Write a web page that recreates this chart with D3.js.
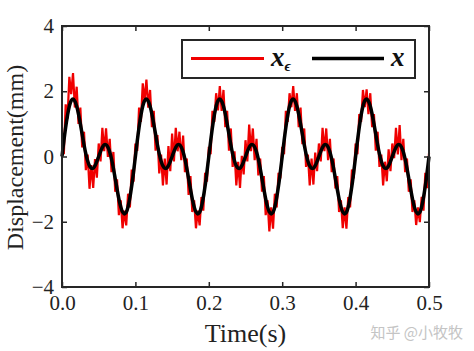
<!DOCTYPE html>
<html>
<head>
<meta charset="utf-8">
<script src="https://cdn.jsdelivr.net/npm/d3@7"></script>
<style>
  body { margin: 0; background: #fff; }
  svg { display: block; }
</style>
</head>
<body>
<svg id="chart"></svg>
<script>
// sample instants (s), 0.0025 s apart
const timeStep = 0.0025;
const times = d3.range(0, 201).map(i => +(i * timeStep).toFixed(4));

// clean displacement x (mm)
const cleanValues = [
  0, 0.47, 0.90, 1.26, 1.54, 1.71, 1.76, 1.70, 1.54, 1.30, 1.00, 0.68, 0.36, 0.08, -0.14, -0.29, -0.36, -0.36, -0.28, -0.15,
  0, 0.15, 0.28, 0.36, 0.36, 0.29, 0.14, -0.08, -0.36, -0.68, -1.00, -1.30, -1.54, -1.70, -1.76, -1.71, -1.54, -1.26, -0.90, -0.47,
  0, 0.47, 0.90, 1.26, 1.54, 1.71, 1.76, 1.70, 1.54, 1.30, 1.00, 0.68, 0.36, 0.08, -0.14, -0.29, -0.36, -0.36, -0.28, -0.15,
  0, 0.15, 0.28, 0.36, 0.36, 0.29, 0.14, -0.08, -0.36, -0.68, -1.00, -1.30, -1.54, -1.70, -1.76, -1.71, -1.54, -1.26, -0.90, -0.47,
  0, 0.47, 0.90, 1.26, 1.54, 1.71, 1.76, 1.70, 1.54, 1.30, 1.00, 0.68, 0.36, 0.08, -0.14, -0.29, -0.36, -0.36, -0.28, -0.15,
  0, 0.15, 0.28, 0.36, 0.36, 0.29, 0.14, -0.08, -0.36, -0.68, -1.00, -1.30, -1.54, -1.70, -1.76, -1.71, -1.54, -1.26, -0.90, -0.47,
  0, 0.47, 0.90, 1.26, 1.54, 1.71, 1.76, 1.70, 1.54, 1.30, 1.00, 0.68, 0.36, 0.08, -0.14, -0.29, -0.36, -0.36, -0.28, -0.15,
  0, 0.15, 0.28, 0.36, 0.36, 0.29, 0.14, -0.08, -0.36, -0.68, -1.00, -1.30, -1.54, -1.70, -1.76, -1.71, -1.54, -1.26, -0.90, -0.47,
  0, 0.47, 0.90, 1.26, 1.54, 1.71, 1.76, 1.70, 1.54, 1.30, 1.00, 0.68, 0.36, 0.08, -0.14, -0.29, -0.36, -0.36, -0.28, -0.15,
  0, 0.15, 0.28, 0.36, 0.36, 0.29, 0.14, -0.08, -0.36, -0.68, -1.00, -1.30, -1.54, -1.70, -1.76, -1.71, -1.54, -1.26, -0.90, -0.47,
  0
];

// deviation of the noisy record x_eps from x (mm)
const noiseOffsets = [
  0.5, -0.4, 0.7, -0.1, 0.9, 0.2, 0.8, -0.2, 0.6, -0.3, 0.5, -0.4, 0.4, -0.5, 0.2, -0.7, 0.1, -0.6, 0.2, -0.5,
  0.4, -0.3, 0.6, -0.2, 0.5, -0.3, 0.4, -0.4, 0.5, -0.4, 0.3, -0.5, 0.2, -0.5, 0.1, -0.4, 0.4, -0.3, 0.5, -0.3,
  0.4, -0.3, 0.6, -0.2, 0.7, 0.0, 0.6, -0.2, 0.5, -0.4, 0.4, -0.5, 0.3, -0.6, 0.2, -0.6, 0.3, -0.5, 0.6, -0.3,
  0.7, -0.3, 0.6, -0.2, 0.4, -0.4, 0.5, -0.4, 0.3, -0.5, 0.4, -0.4, 0.2, -0.5, 0.1, -0.4, 0.3, -0.4, 0.4, -0.3,
  0.3, -0.4, 0.5, -0.2, 0.4, -0.3, 0.4, -0.3, 0.5, -0.4, 0.4, -0.5, 0.5, -0.4, 0.3, -0.6, 0.2, -0.6, 0.3, -0.4,
  0.5, -0.3, 0.7, -0.2, 0.5, -0.4, 0.4, -0.5, 0.3, -0.4, 0.4, -0.5, 0.2, -0.6, 0.2, -0.5, 0.4, -0.3, 0.4, -0.2,
  0.3, -0.4, 0.5, -0.2, 0.4, -0.2, 0.4, -0.3, 0.4, -0.4, 0.5, -0.3, 0.5, -0.4, 0.2, -0.6, 0.3, -0.5, 0.4, -0.3,
  0.4, -0.3, 0.6, -0.2, 0.5, -0.4, 0.4, -0.4, 0.3, -0.3, 0.4, -0.4, 0.2, -0.5, 0.2, -0.5, 0.3, -0.3, 0.5, -0.2,
  0.4, -0.4, 0.4, -0.2, 0.5, -0.2, 0.3, -0.4, 0.4, -0.4, 0.3, -0.5, 0.4, -0.4, 0.2, -0.6, 0.2, -0.4, 0.5, -0.3,
  0.4, -0.2, 0.6, -0.3, 0.6, -0.4, 0.4, -0.4, 0.3, -0.4, 0.3, -0.4, 0.2, -0.4, 0.2, -0.3, 0.3, -0.4, 0.4, -0.5,
  0.1
];

const xTicks = [0, 0.1, 0.2, 0.3, 0.4, 0.5];
const yTicks = [-4, -2, 0, 2, 4];

const W = 474, H = 351;
const margin = { top: 26, right: 45, bottom: 64, left: 62 },
      width = W - margin.left - margin.right,
      height = H - margin.top - margin.bottom;

const serif = "Liberation Serif, DejaVu Serif, serif";

const root = d3.select("#chart").attr("width", W).attr("height", H);
const svg = root.append("g")
  .attr("transform", `translate(${margin.left},${margin.top})`);

const x = d3.scaleLinear().domain([0, 0.5]).range([0, width]);
const y = d3.scaleLinear().domain([-4, 4]).range([height, 0]);

const cleanData = times.map((t, i) => ({ t, v: cleanValues[i] }));
const noisyData = times.map((t, i) => ({ t, v: cleanValues[i] + noiseOffsets[i] }));

// noisy trace
svg.append("path")
  .datum(noisyData)
  .attr("fill", "none")
  .attr("stroke", "#f00000")
  .attr("stroke-width", 2.2)
  .attr("d", d3.line().x(d => x(d.t)).y(d => y(d.v)));

// clean trace
svg.append("path")
  .datum(cleanData)
  .attr("fill", "none")
  .attr("stroke", "#000")
  .attr("stroke-width", 3.5)
  .attr("stroke-linejoin", "round")
  .attr("d", d3.line().curve(d3.curveCatmullRom).x(d => x(d.t)).y(d => y(d.v)));

// axes (ticks pointing inward)
function styleAxis(g) {
  g.select(".domain").remove();
  g.selectAll(".tick line").attr("stroke", "#262626").attr("stroke-width", 1.5);
  g.selectAll(".tick text")
    .attr("fill", "#222")
    .attr("font-family", serif)
    .attr("font-size", 21);
}

svg.append("g")
  .attr("transform", `translate(0,${height})`)
  .call(d3.axisBottom(x).tickValues(xTicks).tickFormat(d3.format(".1f")).tickSize(-5).tickPadding(8))
  .call(styleAxis);

svg.append("g")
  .call(d3.axisTop(x).tickValues(xTicks).tickFormat("").tickSize(-5))
  .call(styleAxis);

svg.append("g")
  .call(d3.axisLeft(y).tickValues(yTicks).tickSize(-5).tickPadding(8))
  .call(styleAxis);

svg.append("g")
  .attr("transform", `translate(${width},0)`)
  .call(d3.axisRight(y).tickValues(yTicks).tickFormat("").tickSize(-5))
  .call(styleAxis);

// frame
svg.append("rect")
  .attr("width", width)
  .attr("height", height)
  .attr("fill", "none")
  .attr("stroke", "#262626")
  .attr("stroke-width", 2);

// axis titles
svg.append("text")
  .attr("x", width / 2)
  .attr("y", height + 55)
  .attr("text-anchor", "middle")
  .attr("font-family", serif)
  .attr("font-size", 26)
  .attr("fill", "#222")
  .text("Time(s)");

svg.append("text")
  .attr("transform", `translate(${23 - margin.left},${height / 2 + 1}) rotate(-90)`)
  .attr("text-anchor", "middle")
  .attr("font-family", serif)
  .attr("font-size", 24)
  .attr("fill", "#222")
  .text("Displacement(mm)");

// legend
const legend = svg.append("g").attr("transform", `translate(${182 - margin.left},${40 - margin.top})`);
legend.append("rect")
  .attr("width", 233).attr("height", 38)
  .attr("fill", "#fff")
  .attr("stroke", "#262626")
  .attr("stroke-width", 2);

const legendItems = [
  { color: "#f00000", width: 3, x0: 9, x1: 82, label: "x", sub: "ϵ", tx: 89 },
  { color: "#000", width: 3.5, x0: 130, x1: 202, label: "x", sub: null, tx: 209 }
];
legendItems.forEach(it => {
  legend.append("line")
    .attr("x1", it.x0).attr("x2", it.x1)
    .attr("y1", 18.5).attr("y2", 18.5)
    .attr("stroke", it.color)
    .attr("stroke-width", it.width);
  const t = legend.append("text")
    .attr("x", it.tx).attr("y", 26)
    .attr("font-family", serif)
    .attr("font-size", 27)
    .attr("font-style", "italic")
    .attr("font-weight", "bold")
    .attr("fill", "#111")
    .text(it.label);
  if (it.sub) {
    t.append("tspan")
      .attr("dy", 5)
      .attr("font-size", 15)
      .text(it.sub);
  }
});

// watermark
root.append("text")
  .attr("x", 463).attr("y", 338)
  .attr("text-anchor", "end")
  .attr("font-family", "Noto Sans CJK SC, sans-serif")
  .attr("font-size", 15)
  .attr("fill", "#c4c4c4")
  .text("知乎 @小牧牧");
</script>
</body>
</html>
